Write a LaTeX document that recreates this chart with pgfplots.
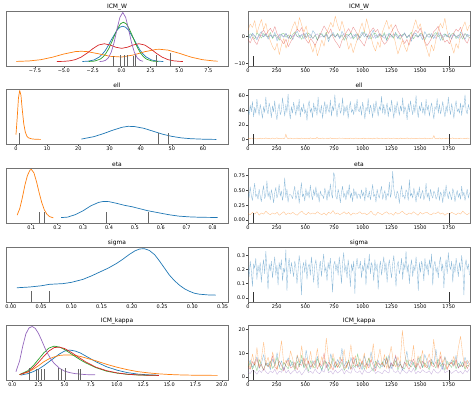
\documentclass[border=0pt]{standalone}
\usepackage{pgfplots}
\pgfplotsset{compat=1.18}
\usepackage{fontspec}
\setmainfont{DejaVu Sans}
\definecolor{C0}{HTML}{1F77B4}
\definecolor{C1}{HTML}{FF7F0E}
\definecolor{C2}{HTML}{2CA02C}
\definecolor{C3}{HTML}{D62728}
\definecolor{C4}{HTML}{9467BD}
\pgfplotsset{
 base/.style={scale only axis, width=222bp, height=55bp, anchor=south west,
   axis line style={black!55, line width=0.7bp}, tick align=outside, major tick length=1.8bp,
   tick pos=left,
   tick style={black!75, line width=0.4bp},
   ticklabel style={font=\fontsize{5}{6}\selectfont, inner sep=1bp},
   every axis title/.style={at={(0.5,1)}, anchor=south, font=\fontsize{6}{7}\selectfont, inner sep=1.2bp},
   /pgf/number format/assume math mode=true, every axis plot/.append style={line join=round}},
 kde/.style={base, ytick=\empty, ymin=-0.09, ymax=1.03},
 trace/.style={base, xmin=0, xmax=1935, xtick={0,250,...,1750}, xticklabels={0,250,500,750,1000,1250,1500,1750}},
 kl/.style={line width=0.7bp},
 tr/.style={line width=0.35bp, opacity=0.5},
 dv/.style={black!60, line width=0.5bp, unbounded coords=jump, forget plot},
 dvt/.style={black!80, line width=0.6bp, unbounded coords=jump, forget plot},
 table/trtab/.style={x expr=\coordindex*19.5, y index=0, header=false, row sep=\\},
 table/trtabb/.style={x expr=\coordindex*9.7, y index=0, header=false, row sep=\\},
}
\begin{document}
\begin{tikzpicture}[x=1bp,y=1bp]
\path[use as bounding box] (0,0) rectangle (474bp,394bp);

% ---------------- ICM_W KDE
\begin{axis}[kde, at={(6bp,328bp)}, title={ICM\_W}, xmin=-10, xmax=9.2,
  xtick={-7.5,-5,...,7.5}, xticklabels={−7.5,−5.0,−2.5,0.0,2.5,5.0,7.5}]
\addplot[C0,kl] coordinates {(-3.4,0.002)(-2.9,0.008)(-2.4,0.032)(-1.9,0.097)(-1.65,0.156)(-1.4,0.23)(-1.15,0.33)(-0.9,0.44)(-0.65,0.54)(-0.4,0.64)(-0.15,0.70)(0.1,0.72)(0.35,0.70)(0.6,0.64)(0.85,0.54)(1.1,0.44)(1.35,0.33)(1.6,0.23)(1.85,0.156)(2.1,0.097)(2.6,0.032)(3.1,0.008)(3.6,0.002)};
\addplot[C1,kl] coordinates {(-9.1,0.003)(-8,0.013)(-7,0.038)(-6,0.088)(-5,0.154)(-4,0.203)(-3.5,0.21)(-3,0.204)(-2,0.159)(-1,0.107)(0,0.093)(1,0.133)(2,0.201)(3,0.248)(3.3,0.25)(4,0.234)(5,0.168)(6,0.091)(7,0.038)(8,0.012)(8.3,0.008)};
\addplot[C2,kl] coordinates {(-2.85,0.002)(-2.35,0.010)(-1.85,0.050)(-1.6,0.096)(-1.35,0.17)(-1.1,0.27)(-0.85,0.40)(-0.6,0.54)(-0.35,0.67)(-0.1,0.77)(0.15,0.80)(0.4,0.77)(0.65,0.67)(0.9,0.54)(1.15,0.40)(1.4,0.27)(1.65,0.17)(1.9,0.096)(2.15,0.050)(2.65,0.010)(3.15,0.002)};
\addplot[C3,kl] coordinates {(-5.6,0.002)(-5.0,0.0045)(-4.5,0.015)(-4.0,0.040)(-3.5,0.091)(-3.0,0.169)(-2.5,0.261)(-2.0,0.337)(-1.5,0.363)(-1.0,0.338)(-0.5,0.292)(0,0.270)(0.5,0.292)(1.0,0.338)(1.5,0.363)(2.0,0.337)(2.5,0.261)(3.0,0.169)(3.5,0.091)(4.0,0.040)(4.5,0.015)(5.0,0.0045)(5.3,0.002)};
\addplot[C4,kl] coordinates {(-1.9,0.001)(-1.65,0.006)(-1.4,0.024)(-1.15,0.076)(-0.9,0.19)(-0.65,0.39)(-0.4,0.66)(-0.15,0.90)(0.1,1.0)(0.35,0.90)(0.6,0.66)(0.85,0.39)(1.1,0.19)(1.35,0.076)(1.6,0.024)(1.85,0.006)};
\addplot[dv] coordinates {(-0.69,-0.09)(-0.69,0.12)(-0.69,nan)(-0.11,-0.09)(-0.11,0.14)(-0.11,nan)(0.24,-0.09)(0.24,0.13)(0.24,nan)(0.5,-0.09)(0.5,0.14)(0.5,nan)(1.0,-0.09)(1.0,0.12)(1.0,nan)(1.22,-0.09)(1.22,0.13)(1.22,nan)(3.0,-0.09)(3.0,0.14)(3.0,nan)(4.21,-0.09)(4.21,0.17)};
\end{axis}

% ---------------- ICM_W trace
\begin{axis}[trace, at={(248bp,328bp)}, title={ICM\_W}, ymin=-11, ymax=9.3, ytick={-10,0}, yticklabels={−10,0}]
\addplot[C0,tr] table[trtab]{0.3\\-0.8\\1.2\\0.1\\-1.4\\0.6\\1.7\\-0.3\\0.9\\-1.1\\0.4\\-0.6\\1.5\\-1.8\\0.2\\0.8\\-0.4\\1.1\\-0.9\\0.5\\-1.3\\0.7\\1.9\\-0.2\\0.6\\-1.0\\1.3\\0.0\\-0.7\\2.1\\0.9\\-1.6\\0.3\\1.0\\-0.5\\0.7\\-2.0\\0.4\\1.4\\-0.1\\0.6\\-0.9\\1.8\\0.2\\-1.2\\0.5\\1.1\\-0.6\\0.8\\-1.5\\0.1\\1.6\\-0.3\\0.9\\-1.1\\0.4\\2.3\\-0.8\\0.2\\1.0\\-0.4\\0.7\\-1.7\\1.2\\0.3\\-0.5\\1.5\\-1.0\\0.6\\0.0\\1.3\\-0.7\\0.5\\-1.9\\0.8\\1.1\\-0.2\\0.4\\-1.3\\1.7\\0.2\\-0.5\\1.0\\-0.9\\0.6\\1.4\\-1.6\\0.3\\0.9\\-0.3\\1.2\\-1.0\\0.5\\0.0\\-0.8\\1.6\\0.4\\-1.2\\0.7\\0.2\\};
\addplot[C1,tr] table[trtab]{2.1\\4.5\\3.2\\5.8\\1.0\\3.9\\6.2\\2.4\\4.8\\0.5\\-1.8\\-3.9\\-5.2\\-2.6\\-6.8\\-3.1\\-0.9\\-4.4\\-2.0\\1.2\\3.6\\5.4\\2.2\\6.9\\4.1\\1.5\\3.8\\-0.6\\-3.3\\-5.9\\-2.8\\-7.2\\-4.6\\-1.4\\-3.7\\0.8\\2.9\\5.1\\3.3\\7.4\\4.2\\1.9\\5.6\\2.8\\-1.1\\-4.8\\-2.5\\-6.1\\-3.4\\-0.7\\2.5\\4.9\\1.6\\6.4\\3.1\\-0.4\\-3.6\\-5.5\\-2.1\\-4.2\\1.4\\3.7\\5.9\\2.6\\4.4\\0.9\\-2.9\\-6.6\\-4.1\\-1.6\\-3.8\\-5.7\\-2.3\\0.3\\3.5\\6.1\\2.7\\4.6\\1.1\\-2.4\\-4.9\\-7.6\\-3.2\\-5.4\\-1.3\\2.2\\4.7\\3.0\\6.6\\1.8\\-0.8\\-3.5\\-6.3\\-2.7\\-4.5\\1.0\\3.4\\5.3\\2.0\\4.1\\};
\addplot[C2,tr] table[trtab]{-0.5\\0.9\\0.2\\-1.1\\1.3\\0.4\\-0.7\\1.0\\0.1\\-0.3\\1.4\\-0.9\\0.6\\0.0\\-1.5\\0.8\\1.1\\-0.4\\0.5\\-1.0\\0.7\\1.6\\-0.2\\0.3\\-1.2\\0.9\\-0.6\\1.2\\0.2\\-0.8\\0.4\\-1.4\\1.0\\0.6\\-0.3\\1.5\\-0.9\\0.1\\0.8\\-0.5\\1.1\\-0.2\\0.5\\-1.6\\0.7\\0.3\\1.3\\-1.1\\0.0\\0.9\\-0.7\\0.6\\1.7\\-0.4\\0.2\\-1.0\\0.8\\1.2\\-0.6\\0.4\\0.0\\1.3\\-1.3\\0.7\\0.5\\-0.8\\1.0\\0.3\\-1.2\\0.6\\0.9\\-0.5\\0.2\\1.5\\-1.0\\0.4\\-0.3\\1.1\\0.7\\-1.4\\0.3\\1.0\\-0.7\\0.5\\1.4\\-0.2\\0.6\\-1.5\\0.8\\0.1\\-0.4\\0.8\\1.2\\-0.9\\0.3\\0.6\\-1.1\\1.0\\0.2\\-0.6\\};
\addplot[C3,tr] table[trtab]{-1.2\\-2.5\\-0.4\\-1.9\\-3.1\\-0.8\\1.1\\2.3\\0.6\\1.8\\2.9\\1.4\\3.6\\0.9\\-0.5\\-1.7\\-2.8\\-1.1\\-3.9\\-2.2\\-0.6\\1.3\\2.6\\1.7\\3.2\\0.4\\-1.4\\-2.6\\-0.9\\-2.0\\-3.4\\-1.5\\0.2\\1.9\\3.8\\2.4\\1.0\\2.7\\-0.3\\-1.8\\-2.9\\-4.3\\-1.6\\-0.2\\1.5\\2.8\\1.2\\3.4\\2.1\\0.5\\-1.3\\-2.4\\-3.6\\-1.0\\0.8\\2.0\\3.1\\1.6\\2.5\\0.1\\-1.7\\-3.0\\-2.1\\-0.7\\1.4\\2.9\\4.2\\1.9\\0.7\\-1.1\\-2.7\\-1.2\\-3.3\\-0.5\\1.0\\2.2\\1.3\\3.0\\0.3\\-1.9\\-3.5\\-2.3\\-0.8\\1.7\\2.5\\3.7\\1.1\\-0.6\\-2.2\\-1.4\\-2.8\\-0.9\\1.2\\2.6\\1.8\\3.3\\0.5\\-1.5\\-2.6\\-0.4\\};
\addplot[C4,tr] table[trtab]{0.2\\-0.4\\0.7\\0.0\\-0.8\\0.5\\0.3\\-0.2\\0.9\\-0.5\\0.6\\-0.1\\0.4\\-0.9\\0.8\\0.1\\-0.3\\1.0\\-0.6\\0.3\\-0.2\\0.7\\0.0\\-0.7\\0.5\\1.1\\-0.4\\0.2\\0.6\\-1.0\\0.4\\0.9\\-0.5\\0.1\\-0.2\\0.8\\-0.8\\0.3\\0.5\\-0.3\\0.7\\-0.6\\0.2\\1.0\\-0.1\\0.4\\-0.9\\0.6\\0.0\\0.3\\-0.5\\0.5\\1.2\\-0.3\\0.1\\0.7\\-0.7\\0.4\\-0.2\\0.8\\0.0\\-0.8\\0.6\\0.3\\-0.4\\0.9\\0.2\\-0.6\\0.5\\-0.1\\1.0\\-0.3\\0.4\\-1.1\\0.6\\0.2\\-0.5\\0.8\\0.1\\-0.7\\0.3\\0.7\\-0.2\\0.5\\-0.9\\0.4\\1.1\\-0.4\\0.0\\0.6\\-0.6\\0.2\\0.8\\-0.3\\0.5\\-0.8\\0.3\\0.9\\-0.1\\0.4\\};
\addplot[dvt] coordinates {(45,-11)(45,-7.3)(45,nan)(1752,-11)(1752,-7.3)};
\end{axis}

% ---------------- ell KDE
\begin{axis}[kde, at={(6bp,250bp)}, title={ell}, xmin=-3.2, xmax=68,
  xtick={0,10,...,60}, xticklabels={0,10,20,30,40,50,60}]
\addplot[C0,kl] coordinates {(21,0.01)(25,0.06)(28,0.12)(31,0.19)(34,0.25)(36,0.27)(38,0.265)(41,0.23)(44,0.17)(47,0.11)(50,0.065)(53,0.035)(56,0.018)(60,0.008)(64.3,0.003)};
\addplot[C1,kl] coordinates {(0,0.1)(0.4,0.45)(0.8,0.85)(1.2,1.0)(1.6,0.9)(2.0,0.62)(2.5,0.32)(3.0,0.15)(3.5,0.07)(4.0,0.035)(5,0.015)(6,0.008)(7,0.005)(8,0.004)};
\addplot[dv] coordinates {(1.2,-0.09)(1.2,0.14)(1.2,nan)(45.7,-0.09)(45.7,0.14)(45.7,nan)(48.9,-0.09)(48.9,0.14)};
\end{axis}

% ---------------- ell trace
\begin{axis}[trace, at={(248bp,250bp)}, title={ell}, ymin=-6, ymax=69, ytick={0,20,40,60}, yticklabels={0,20,40,60}]
\addplot[C0,tr] table[trtabb]{40\\34\\47\\38\\52\\31\\44\\36\\55\\42\\33\\48\\39\\29\\45\\37\\58\\41\\35\\50\\43\\30\\46\\38\\53\\36\\27\\42\\49\\34\\39\\57\\44\\32\\48\\37\\62\\40\\28\\45\\36\\51\\42\\33\\47\\39\\55\\31\\44\\38\\49\\35\\41\\26\\46\\53\\37\\43\\30\\50\\38\\45\\33\\58\\40\\36\\47\\29\\43\\52\\35\\48\\41\\37\\54\\32\\46\\39\\61\\42\\31\\44\\50\\36\\40\\57\\33\\45\\38\\47\\29\\43\\52\\37\\41\\34\\49\\38\\55\\40\\38\\46\\33\\51\\42\\28\\44\\39\\56\\35\\47\\41\\30\\49\\37\\53\\43\\32\\45\\40\\59\\36\\48\\34\\42\\50\\31\\44\\38\\54\\41\\29\\47\\36\\52\\43\\33\\46\\39\\57\\35\\45\\40\\27\\49\\38\\53\\42\\34\\48\\37\\60\\41\\30\\46\\39\\51\\36\\44\\33\\55\\40\\47\\32\\43\\50\\38\\28\\45\\41\\56\\36\\48\\35\\42\\52\\39\\31\\46\\37\\58\\43\\34\\49\\40\\29\\45\\53\\38\\42\\36\\50\\33\\47\\44\\61\\39\\35\\48\\41\\};
\addplot[C1,tr] table[trtabb]{1.2\\1.8\\0.9\\2.3\\1.5\\1.1\\2.0\\1.4\\0.8\\1.7\\1.3\\2.1\\1.0\\1.6\\1.9\\1.2\\2.4\\1.5\\1.1\\1.8\\0.9\\1.4\\2.2\\1.7\\1.0\\1.6\\2.5\\1.3\\1.9\\1.1\\1.5\\2.0\\1.2\\1.8\\7.5\\2.6\\1.1\\1.7\\2.1\\1.3\\1.6\\1.0\\1.9\\1.4\\2.2\\1.2\\1.7\\0.9\\2.3\\1.5\\1.1\\1.8\\1.3\\2.0\\1.6\\1.0\\2.4\\1.4\\1.7\\1.2\\1.9\\1.3\\3.0\\1.5\\1.1\\1.8\\1.4\\2.2\\1.0\\1.6\\1.4\\2.0\\1.2\\1.7\\2.5\\1.3\\1.8\\1.1\\1.9\\1.5\\1.0\\1.7\\2.3\\1.4\\1.4\\2.0\\1.6\\1.1\\1.8\\1.3\\1.7\\1.2\\2.1\\1.5\\1.9\\1.0\\1.6\\2.2\\1.4\\1.8\\1.5\\1.1\\1.9\\1.3\\2.2\\1.0\\1.7\\1.4\\2.0\\1.2\\1.8\\1.5\\0.9\\2.1\\1.3\\1.6\\2.4\\1.1\\1.7\\1.4\\2.0\\1.2\\1.6\\1.0\\1.9\\1.5\\2.3\\1.3\\1.1\\1.8\\1.4\\2.1\\1.6\\1.2\\1.9\\1.0\\1.5\\2.2\\1.3\\1.7\\1.1\\1.8\\1.4\\2.5\\1.2\\1.6\\1.0\\2.0\\1.5\\1.3\\1.9\\1.2\\1.7\\1.4\\2.1\\1.1\\1.6\\1.8\\1.3\\2.3\\1.0\\1.5\\1.9\\1.2\\1.7\\1.4\\2.0\\5.5\\1.6\\1.1\\1.8\\1.3\\2.2\\1.5\\1.0\\1.7\\1.4\\1.9\\1.2\\2.1\\1.6\\1.1\\1.8\\1.4\\2.4\\1.3\\1.5\\1.0\\1.9\\1.7\\1.2\\2.0\\1.4\\1.6\\1.1\\1.8\\1.3\\2.2\\1.5\\1.7\\};
\addplot[dvt] coordinates {(45,-6)(45,7.6)(45,nan)(1752,-6)(1752,7.6)};
\end{axis}

% ---------------- eta KDE
\begin{axis}[kde, at={(6bp,171bp)}, title={eta}, xmin=0.002, xmax=0.86,
  xtick={0.1,0.2,...,0.8}, xticklabels={0.1,0.2,0.3,0.4,0.5,0.6,0.7,0.8}]
\addplot[C0,kl] coordinates {(0.215,0.02)(0.24,0.03)(0.27,0.08)(0.30,0.16)(0.33,0.26)(0.36,0.33)(0.38,0.35)(0.40,0.345)(0.43,0.31)(0.46,0.27)(0.49,0.24)(0.52,0.20)(0.55,0.16)(0.59,0.12)(0.63,0.08)(0.67,0.05)(0.71,0.035)(0.75,0.027)(0.82,0.022)};
\addplot[C1,kl] coordinates {(0.045,0.07)(0.055,0.2)(0.065,0.42)(0.075,0.68)(0.085,0.88)(0.095,0.99)(0.1,1.0)(0.11,0.93)(0.12,0.75)(0.13,0.53)(0.14,0.33)(0.15,0.18)(0.16,0.09)(0.17,0.04)(0.185,0.015)};
\addplot[dv] coordinates {(0.132,-0.09)(0.132,0.14)(0.132,nan)(0.148,-0.09)(0.148,0.14)(0.148,nan)(0.39,-0.09)(0.39,0.14)(0.39,nan)(0.551,-0.09)(0.551,0.14)};
\end{axis}

% ---------------- eta trace
\begin{axis}[trace, at={(248bp,171bp)}, title={eta}, ymin=-0.05, ymax=0.877, ytick={0,0.25,0.5,0.75}, yticklabels={0.00,0.25,0.50,0.75}]
\addplot[C0,tr] table[trtabb]{0.45\\0.38\\0.56\\0.41\\0.33\\0.49\\0.62\\0.39\\0.44\\0.35\\0.52\\0.40\\0.31\\0.47\\0.58\\0.36\\0.43\\0.66\\0.39\\0.48\\0.34\\0.51\\0.42\\0.29\\0.46\\0.55\\0.37\\0.44\\0.60\\0.40\\0.49\\0.33\\0.45\\0.71\\0.38\\0.52\\0.30\\0.43\\0.43\\0.41\\0.36\\0.47\\0.57\\0.35\\0.42\\0.50\\0.28\\0.46\\0.63\\0.39\\0.44\\0.32\\0.53\\0.40\\0.48\\0.37\\0.59\\0.43\\0.34\\0.51\\0.41\\0.56\\0.38\\0.46\\0.30\\0.49\\0.42\\0.42\\0.36\\0.54\\0.45\\0.33\\0.50\\0.39\\0.61\\0.44\\0.37\\0.80\\0.73\\0.40\\0.35\\0.52\\0.43\\0.29\\0.47\\0.57\\0.38\\0.45\\0.34\\0.50\\0.42\\0.60\\0.37\\0.46\\0.31\\0.53\\0.41\\0.48\\0.36\\0.44\\0.43\\0.36\\0.51\\0.40\\0.47\\0.32\\0.55\\0.41\\0.38\\0.49\\0.34\\0.46\\0.60\\0.39\\0.44\\0.30\\0.52\\0.42\\0.37\\0.48\\0.57\\0.35\\0.43\\0.50\\0.33\\0.45\\0.40\\0.64\\0.38\\0.47\\0.82\\0.53\\0.41\\0.36\\0.49\\0.44\\0.28\\0.46\\0.58\\0.39\\0.42\\0.35\\0.51\\0.47\\0.33\\0.68\\0.40\\0.45\\0.37\\0.54\\0.43\\0.30\\0.48\\0.39\\0.56\\0.36\\0.44\\0.50\\0.34\\0.41\\0.62\\0.38\\0.46\\0.32\\0.52\\0.42\\0.37\\0.49\\0.45\\0.35\\0.40\\0.55\\0.33\\0.47\\0.43\\0.29\\0.51\\0.39\\0.59\\0.44\\0.36\\0.48\\0.41\\0.34\\0.53\\0.46\\0.31\\0.42\\0.50\\0.38\\0.45\\0.35\\0.57\\0.40\\0.47\\0.33\\0.43\\0.52\\0.37\\0.46\\};
\addplot[C1,tr] table[trtab]{0.11\\0.09\\0.13\\0.10\\0.14\\0.08\\0.12\\0.10\\0.15\\0.11\\0.09\\0.12\\0.10\\0.13\\0.08\\0.11\\0.14\\0.09\\0.12\\0.10\\0.13\\0.10\\0.08\\0.12\\0.15\\0.11\\0.09\\0.13\\0.10\\0.12\\0.10\\0.14\\0.11\\0.09\\0.12\\0.08\\0.13\\0.11\\0.16\\0.10\\0.12\\0.09\\0.11\\0.14\\0.10\\0.13\\0.08\\0.12\\0.10\\0.11\\0.14\\0.10\\0.12\\0.09\\0.11\\0.15\\0.10\\0.08\\0.13\\0.11\\0.09\\0.12\\0.14\\0.10\\0.11\\0.08\\0.13\\0.10\\0.12\\0.15\\0.11\\0.09\\0.12\\0.10\\0.14\\0.11\\0.08\\0.13\\0.10\\0.12\\0.13\\0.10\\0.09\\0.12\\0.11\\0.14\\0.10\\0.12\\0.08\\0.11\\0.10\\0.13\\0.11\\0.09\\0.12\\0.10\\0.15\\0.11\\0.09\\0.12\\};
\addplot[dvt] coordinates {(45,-0.05)(45,0.119)(45,nan)(1752,-0.05)(1752,0.119)};
\end{axis}

% ---------------- sigma KDE
\begin{axis}[kde, at={(6bp,92bp)}, title={sigma}, xmin=-0.008, xmax=0.359,
  xtick={0,0.05,...,0.35}, xticklabels={0.00,0.05,0.10,0.15,0.20,0.25,0.30,0.35}]
\addplot[C0,kl] coordinates {(0.01,0.20)(0.031,0.215)(0.05,0.24)(0.064,0.27)(0.086,0.284)(0.10,0.31)(0.119,0.37)(0.133,0.44)(0.147,0.52)(0.161,0.60)(0.174,0.69)(0.185,0.78)(0.196,0.88)(0.205,0.95)(0.213,0.99)(0.221,0.995)(0.229,0.96)(0.238,0.87)(0.246,0.74)(0.254,0.60)(0.262,0.46)(0.270,0.35)(0.279,0.25)(0.287,0.18)(0.295,0.13)(0.303,0.09)(0.311,0.07)(0.325,0.055)(0.339,0.05)};
\addplot[dv] coordinates {(0.034,-0.09)(0.034,0.14)(0.034,nan)(0.064,-0.09)(0.064,0.14)};
\end{axis}

% ---------------- sigma trace
\begin{axis}[trace, at={(248bp,92bp)}, title={sigma}, ymin=-0.03, ymax=0.36, ytick={0,0.1,0.2,0.3}, yticklabels={0.0,0.1,0.2,0.3}]
\addplot[C0,tr] table[trtabb]{0.22\\0.15\\0.26\\0.19\\0.08\\0.24\\0.21\\0.28\\0.13\\0.23\\0.18\\0.25\\0.11\\0.21\\0.27\\0.17\\0.33\\0.20\\0.06\\0.24\\0.19\\0.26\\0.14\\0.22\\0.29\\0.16\\0.23\\0.09\\0.25\\0.20\\0.27\\0.12\\0.21\\0.18\\0.34\\0.05\\0.22\\0.28\\0.17\\0.25\\0.20\\0.15\\0.26\\0.22\\0.10\\0.19\\0.30\\0.23\\0.02\\0.21\\0.25\\0.18\\0.27\\0.13\\0.22\\0.24\\0.16\\0.29\\0.20\\0.11\\0.23\\0.27\\0.19\\0.07\\0.21\\0.26\\0.15\\0.24\\0.31\\0.18\\0.22\\0.12\\0.25\\0.20\\0.28\\0.17\\0.04\\0.23\\0.26\\0.19\\0.24\\0.16\\0.29\\0.21\\0.10\\0.25\\0.32\\0.18\\0.23\\0.14\\0.27\\0.20\\0.08\\0.24\\0.19\\0.26\\0.03\\0.22\\0.28\\0.21\\0.21\\0.26\\0.14\\0.23\\0.19\\0.28\\0.09\\0.24\\0.20\\0.31\\0.17\\0.25\\0.22\\0.12\\0.27\\0.19\\0.24\\0.06\\0.21\\0.26\\0.16\\0.23\\0.29\\0.18\\0.25\\0.11\\0.22\\0.27\\0.20\\0.14\\0.24\\0.30\\0.19\\0.08\\0.23\\0.26\\0.17\\0.21\\0.28\\0.13\\0.25\\0.20\\0.33\\0.18\\0.24\\0.10\\0.22\\0.27\\0.15\\0.23\\0.19\\0.29\\0.21\\0.05\\0.25\\0.18\\0.26\\0.22\\0.12\\0.28\\0.20\\0.24\\0.16\\0.27\\0.21\\0.31\\0.09\\0.23\\0.26\\0.18\\0.22\\0.14\\0.25\\0.29\\0.19\\0.24\\0.07\\0.21\\0.27\\0.17\\0.32\\0.23\\0.20\\0.26\\0.11\\0.24\\0.18\\0.28\\0.22\\0.15\\0.25\\0.19\\0.30\\0.21\\0.02\\0.23\\0.27\\0.20\\0.24\\0.16\\};
\addplot[dvt] coordinates {(45,-0.03)(45,0.041)(45,nan)(1752,-0.03)(1752,0.041)};
\end{axis}

% ---------------- ICM_kappa KDE
\begin{axis}[kde, at={(6bp,14bp)}, title={ICM\_kappa}, xmin=-0.6, xmax=20.6,
  xtick={0,2.5,...,20}, xticklabels={0.0,2.5,5.0,7.5,10.0,12.5,15.0,17.5,20.0}]
\addplot[C0,kl] coordinates {(0.8,0.01)(1.5,0.04)(2.0,0.08)(2.5,0.13)(3.0,0.2)(3.5,0.28)(4.0,0.36)(4.5,0.44)(5.0,0.50)(5.5,0.52)(6.0,0.50)(6.5,0.46)(7.0,0.40)(7.5,0.34)(8.0,0.28)(9.0,0.18)(10.0,0.11)(11.0,0.06)(12.0,0.03)(13,0.015)(14,0.008)};
\addplot[C1,kl] coordinates {(0.7,0.02)(1.5,0.07)(2,0.13)(2.5,0.2)(3,0.28)(3.5,0.34)(4,0.38)(4.5,0.41)(5,0.42)(5.5,0.42)(6,0.41)(6.5,0.39)(7,0.36)(8,0.30)(9,0.23)(10,0.17)(11,0.12)(12,0.08)(13,0.055)(14,0.035)(15,0.022)(16,0.014)(17,0.009)(18,0.006)(19.6,0.004)};
\addplot[C2,kl] coordinates {(0.7,0.02)(1.5,0.10)(2.0,0.2)(2.5,0.33)(3.0,0.46)(3.5,0.56)(4.0,0.60)(4.5,0.58)(5.0,0.53)(5.5,0.46)(6.0,0.39)(6.5,0.32)(7.0,0.26)(8.0,0.16)(9.0,0.09)(10.0,0.05)(11.0,0.025)(12.0,0.012)(13,0.006)(14,0.003)};
\addplot[C3,kl] coordinates {(0.7,0.02)(1.5,0.08)(2.0,0.16)(2.5,0.27)(3.0,0.39)(3.5,0.50)(4.0,0.57)(4.5,0.58)(5.0,0.55)(5.5,0.49)(6.0,0.42)(6.5,0.35)(7.0,0.28)(8.0,0.17)(9.0,0.10)(10.0,0.055)(11,0.028)(12,0.014)(13,0.007)(14,0.003)};
\addplot[C4,kl] coordinates {(0.35,0.08)(0.7,0.3)(1.0,0.6)(1.3,0.85)(1.6,0.97)(1.9,1.0)(2.2,0.96)(2.5,0.86)(2.8,0.72)(3.1,0.57)(3.4,0.44)(3.7,0.33)(4.0,0.25)(4.5,0.15)(5.0,0.09)(5.5,0.06)(6.0,0.04)(6.5,0.03)(7.0,0.02)(7.9,0.015)};
\addplot[dv] coordinates {(1.59,-0.09)(1.59,0.15)(1.59,nan)(2.30,-0.09)(2.30,0.14)(2.30,nan)(2.52,-0.09)(2.52,0.14)(2.52,nan)(2.78,-0.09)(2.78,0.14)(2.78,nan)(3.02,-0.09)(3.02,0.14)(3.02,nan)(4.43,-0.09)(4.43,0.15)(4.43,nan)(4.69,-0.09)(4.69,0.14)(4.69,nan)(5.10,-0.09)(5.10,0.15)(5.10,nan)(6.28,-0.09)(6.28,0.14)(6.28,nan)(6.47,-0.09)(6.47,0.14)};
\end{axis}

% ---------------- ICM_kappa trace
\begin{axis}[trace, at={(248bp,14bp)}, title={ICM\_kappa}, ymin=-1.2, ymax=21.8, ytick={0,10,20}, yticklabels={0,10,20}]
\addplot[C0,tr] table[trtab]{5.2\\7.1\\4.0\\6.3\\8.5\\3.6\\5.8\\9.4\\4.7\\6.0\\3.1\\7.6\\5.5\\10.2\\4.3\\6.8\\2.9\\5.9\\8.1\\4.6\\6.5\\3.8\\9.0\\5.1\\7.3\\4.2\\11.3\\5.7\\3.4\\6.9\\4.8\\8.7\\5.3\\2.7\\7.0\\6.1\\4.4\\9.8\\5.0\\3.9\\7.4\\5.6\\12.1\\4.5\\6.6\\3.3\\8.2\\5.4\\7.8\\4.1\\6.2\\3.0\\8.9\\5.8\\4.9\\10.6\\6.4\\3.7\\7.2\\5.1\\4.3\\7.7\\5.5\\9.2\\3.5\\6.0\\8.4\\4.7\\6.7\\2.8\\5.9\\10.9\\4.6\\7.0\\5.2\\3.6\\8.0\\6.3\\4.0\\9.5\\6.8\\3.9\\7.5\\5.3\\11.7\\4.4\\6.1\\3.2\\8.6\\5.7\\4.9\\7.2\\5.0\\9.1\\3.7\\6.5\\4.2\\8.3\\5.6\\6.9\\};
\addplot[C1,tr] table[trtab]{6.8\\3.5\\9.7\\5.1\\12.4\\4.2\\7.9\\14.6\\5.8\\8.3\\3.9\\10.5\\6.4\\2.8\\8.8\\15.2\\5.3\\7.1\\4.6\\11.0\\7.5\\3.2\\9.3\\6.0\\13.1\\4.9\\8.0\\5.6\\10.8\\3.7\\6.2\\12.0\\4.4\\8.6\\5.0\\16.3\\7.3\\3.4\\9.9\\5.9\\4.1\\8.4\\6.7\\11.5\\3.8\\7.0\\13.6\\5.2\\9.0\\4.7\\7.8\\5.5\\10.1\\3.3\\8.1\\6.3\\14.0\\4.8\\7.4\\11.8\\5.0\\9.5\\3.6\\7.7\\12.9\\6.1\\4.3\\8.5\\5.4\\19.5\\10.3\\4.5\\7.2\\6.6\\13.3\\3.9\\8.9\\5.7\\11.2\\4.0\\6.9\\9.8\\5.1\\15.8\\7.6\\4.2\\10.6\\6.0\\8.2\\3.5\\6.1\\5.6\\8.7\\4.9\\12.2\\17.1\\9.2\\3.8\\7.0\\5.3\\};
\addplot[C2,tr] table[trtab]{4.1\\6.2\\3.3\\5.5\\2.6\\7.4\\4.8\\3.0\\5.9\\4.4\\6.8\\3.6\\5.2\\8.3\\4.0\\2.9\\6.1\\4.7\\3.4\\7.0\\5.0\\3.1\\6.6\\4.3\\9.2\\3.8\\5.6\\2.4\\6.9\\4.5\\3.7\\7.7\\4.9\\3.2\\5.8\\6.4\\2.7\\5.3\\8.0\\4.2\\5.7\\3.9\\6.3\\2.8\\4.6\\7.2\\3.5\\5.1\\4.0\\9.8\\4.4\\6.0\\3.3\\5.4\\7.9\\4.1\\2.5\\6.7\\4.8\\3.6\\6.5\\4.3\\8.6\\3.7\\5.2\\4.6\\6.9\\3.0\\5.5\\4.0\\3.4\\7.3\\5.0\\4.2\\6.2\\2.8\\5.7\\8.8\\3.9\\6.0\\4.7\\3.1\\6.4\\5.3\\3.8\\7.6\\4.5\\5.9\\2.9\\6.6\\5.4\\4.0\\7.1\\3.5\\5.8\\4.3\\6.3\\3.2\\5.0\\4.6\\};
\addplot[C3,tr] table[trtab]{4.6\\3.2\\6.5\\5.0\\7.8\\3.9\\5.4\\2.8\\6.0\\4.3\\5.7\\8.9\\4.1\\3.5\\6.7\\4.8\\2.6\\5.9\\7.2\\3.8\\4.4\\6.3\\3.0\\5.6\\4.9\\8.1\\3.7\\6.8\\4.2\\5.3\\7.0\\3.4\\5.8\\4.5\\10.1\\3.9\\6.2\\5.1\\2.9\\6.6\\4.0\\5.5\\7.5\\3.6\\4.8\\6.4\\3.1\\8.4\\4.7\\5.2\\3.3\\6.9\\4.4\\5.7\\3.8\\7.3\\4.9\\2.7\\6.1\\5.0\\5.8\\4.2\\7.9\\3.5\\6.0\\4.6\\9.3\\4.1\\5.4\\3.7\\6.3\\4.7\\3.2\\5.5\\7.6\\4.0\\5.9\\3.4\\6.7\\4.8\\3.9\\7.1\\5.0\\4.3\\6.5\\3.6\\8.7\\4.9\\5.6\\3.1\\5.3\\6.2\\4.5\\7.4\\3.8\\5.1\\4.4\\6.8\\3.5\\5.7\\};
\addplot[C4,tr] table[trtab]{2.1\\1.5\\3.0\\2.4\\1.2\\2.8\\1.9\\3.6\\2.2\\1.4\\2.6\\1.8\\3.3\\1.1\\2.5\\2.0\\4.1\\1.7\\2.9\\1.3\\2.3\\3.1\\1.6\\2.7\\0.9\\2.2\\3.8\\1.9\\2.5\\1.5\\3.4\\2.0\\1.4\\2.8\\2.1\\5.2\\1.8\\2.6\\1.2\\3.0\\1.7\\2.4\\3.5\\1.3\\2.9\\2.0\\1.6\\4.4\\2.3\\1.9\\2.7\\1.1\\3.2\\2.1\\1.8\\2.6\\3.9\\1.5\\2.4\\2.0\\1.4\\3.0\\2.2\\1.7\\6.1\\2.5\\1.9\\2.8\\1.3\\3.3\\2.3\\1.6\\2.9\\2.0\\3.7\\1.4\\2.5\\1.8\\3.1\\2.2\\1.9\\2.7\\1.2\\3.4\\2.1\\1.6\\2.6\\4.7\\1.8\\2.4\\2.8\\1.5\\2.3\\3.0\\1.7\\2.5\\1.3\\2.9\\2.0\\3.5\\};
\addplot[dvt] coordinates {(45,-1.2)(45,3.0)(45,nan)(1752,-1.2)(1752,3.0)};
\end{axis}
\end{tikzpicture}
\end{document}
